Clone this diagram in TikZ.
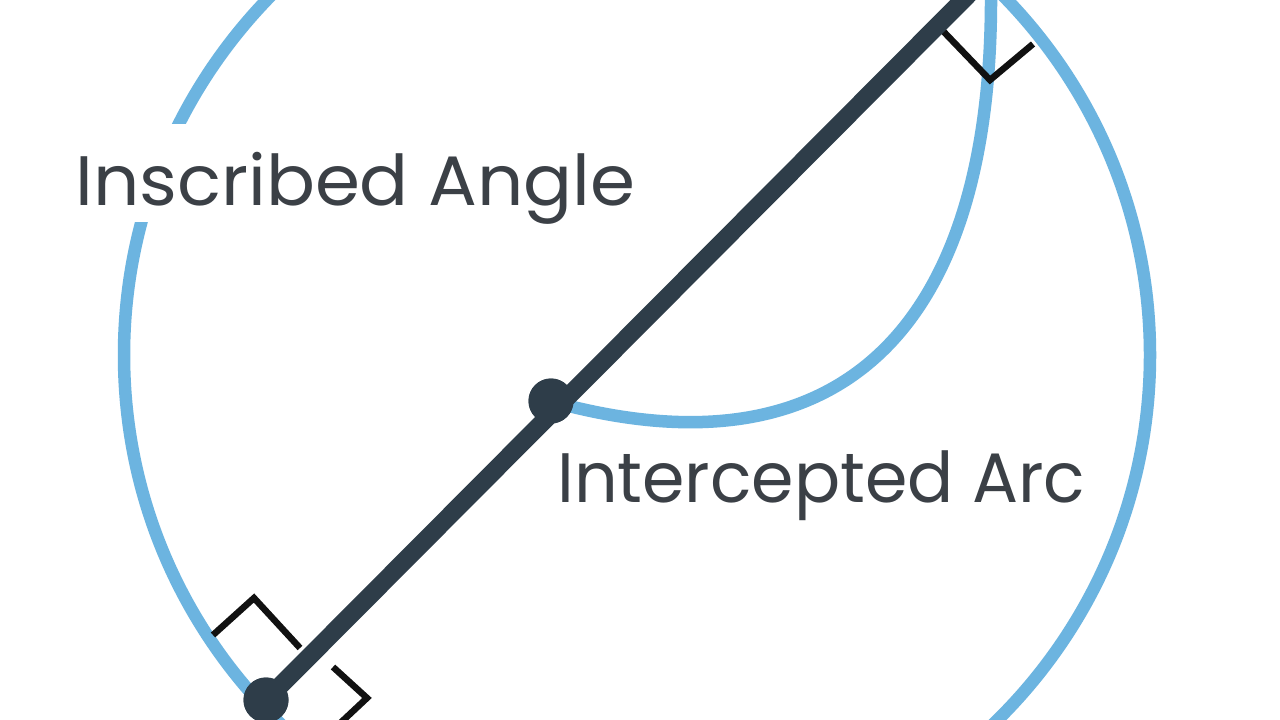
\documentclass[tikz,border=0pt]{standalone}
\usepackage{fontspec}
\newfontfamily\labelfont{Poppins}
\definecolor{circblue}{RGB}{108,180,224}
\definecolor{darkline}{RGB}{46,61,73}
\definecolor{textgray}{RGB}{59,64,70}
\definecolor{markblack}{RGB}{17,17,17}
\tikzset{
  circlestroke/.style={draw=circblue, line width=12.5pt},
  arcstroke/.style={draw=circblue, line width=12.5pt},
  diamline/.style={draw=darkline, line width=18pt},
  rightmark/.style={draw=markblack, line width=6.5pt, line join=miter},
  dotnode/.style={circle, fill=darkline, minimum size=45pt, inner sep=0pt},
  labeltext/.style={font=\labelfont\fontsize{70}{84}\selectfont, text=textgray, inner sep=0pt}
}
\begin{document}
\begin{tikzpicture}[x=1pt,y=-1pt]
\useasboundingbox (0,0) rectangle (1280,720);
\fill[white] (0,0) rectangle (1280,720);
\clip (0,0) rectangle (1280,720);
% big circle
\draw[circlestroke] (637,355) circle[radius=513];
% intercepted arc
\coordinate (arcstart) at (565,405);
\coordinate (arcend) at (991,-8);
\draw[arcstroke] (arcstart) .. controls (840,475) and (993,330) .. (arcend);
% right angle marks
\coordinate (m1a) at (943,31);
\coordinate (m1b) at (990,80);
\coordinate (m1c) at (1033,44);
\draw[rightmark] (m1a) -- (m1b) -- (m1c);
\coordinate (m2a) at (213,635);
\coordinate (m2b) at (254,598);
\coordinate (m2c) at (300,648);
\draw[rightmark] (m2a) -- (m2b) -- (m2c);
\coordinate (m3a) at (333,667);
\coordinate (m3b) at (367,698);
\coordinate (m3c) at (335,728);
\draw[rightmark] (m3a) -- (m3b) -- (m3c);
% diameter line and dots
\node[dotnode] (vertex) at (266,700) {};
\node[dotnode] (mid) at (551,401) {};
\coordinate (lineend) at (970,-7);
\draw[diamline] (vertex.center) -- (lineend);
\node[dotnode] at (vertex.center) {};
\node[dotnode] at (mid.center) {};
% labels
\node[labeltext, fill=white, anchor=base west, text height=81pt, text depth=17pt] (inscribed) at (75,205) {\scalebox{1.035}[1]{Inscribed Angle}};
\node[labeltext, anchor=base west] (intercepted) at (557,502) {\scalebox{0.976}[1]{Intercepted Arc}};
\end{tikzpicture}
\end{document}
